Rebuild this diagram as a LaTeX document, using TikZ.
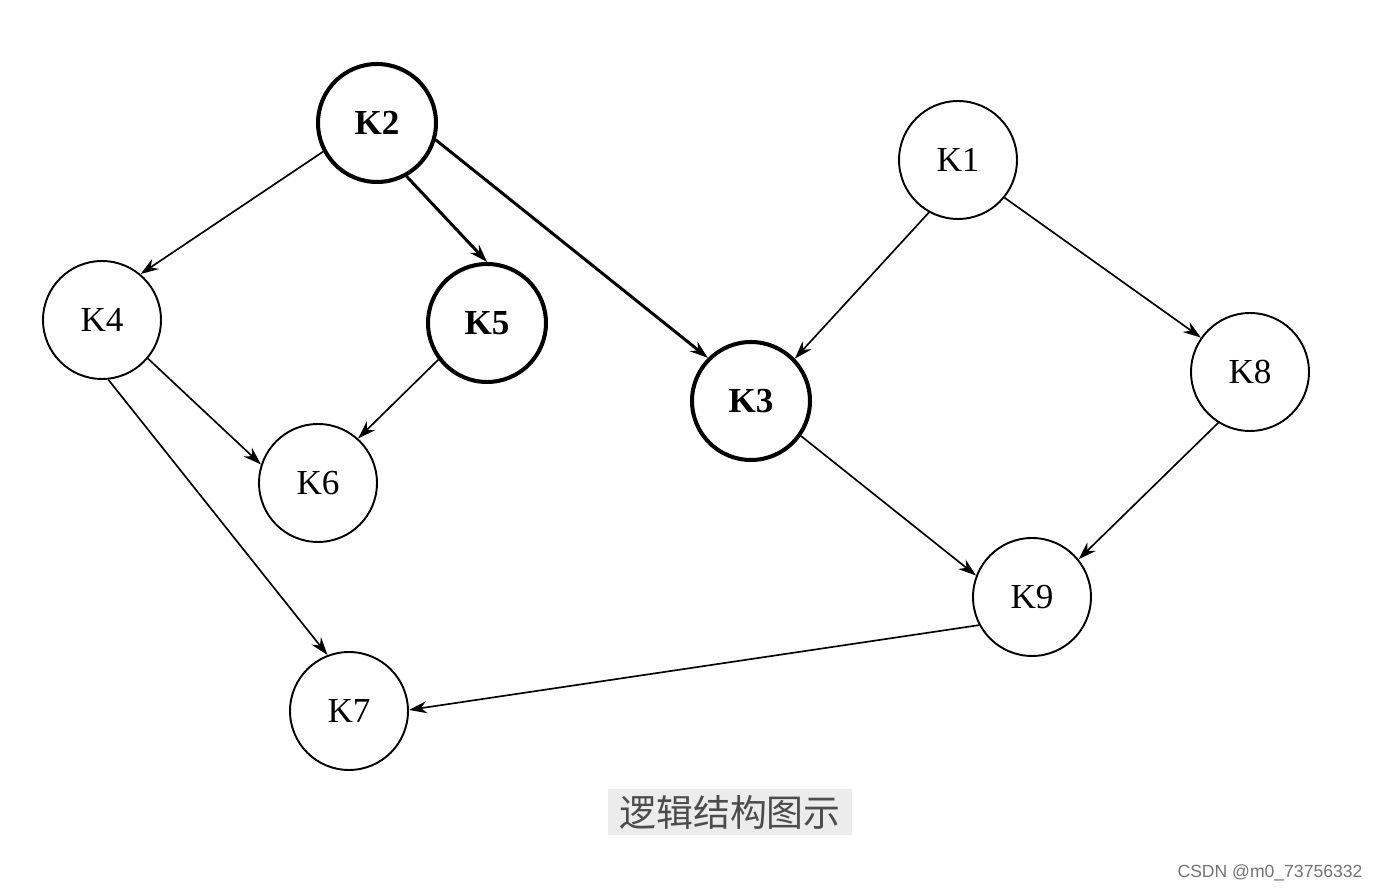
\documentclass[tikz,border=0pt]{standalone}
\usepackage{fontspec}
\setmainfont{Liberation Serif}
\newfontfamily\cjk{Noto Sans CJK SC}
\newfontfamily\wmfont{Liberation Sans}
\usetikzlibrary{arrows.meta}

\begin{document}
\begin{tikzpicture}[x=0.02cm, y=-0.02cm,
  knode/.style={draw, circle, minimum size=2.36cm, inner sep=0pt,
                line width=1.1pt, font=\fontsize{20}{22}\selectfont},
  bnode/.style={knode, line width=2.3pt, font=\fontsize{20}{22}\selectfont\bfseries},
  arr/.style={-{Stealth[length=3.6mm, width=2.4mm]}, line width=0.95pt},
  barr/.style={arr, line width=1.7pt},
]
\useasboundingbox (0,0) rectangle (1374,891);

% nodes
\node[bnode] (K2) at (377,123) {K2};
\node[knode] (K1) at (958,160) {K1};
\node[knode] (K4) at (102,320) {K4};
\node[bnode] (K5) at (487,323) {K5};
\node[bnode] (K3) at (751,401) {K3};
\node[knode] (K8) at (1250,372) {K8};
\node[knode] (K6) at (318,483) {K6};
\node[knode] (K9) at (1032,597) {K9};
\node[knode] (K7) at (349,711) {K7};

% edges
\draw[arr] (K2.208) -- (K4.50);
\draw[barr] (K2.299) -- (K5.90);
\draw[barr] (K2.344) -- (K3.135);
\draw[arr] (K1.241) -- (K3.44);
\draw[arr] (K1.321) -- (K8.145);
\draw[arr] (K4.320) -- (K6.162);
\draw[arr] (K4.276) -- (K7.111);
\draw[arr] (K5.217) -- (K6.48);
\draw[arr] (K3.325) -- (K9.159);
\draw[arr] (K8.238) -- (K9.39);
\draw[arr] (K9.208) -- (K7.1);

% caption
\node[fill=gray!15, minimum width=4.9cm, minimum height=0.94cm,
      text=black!70, font=\cjk\fontsize{21}{23}\selectfont] (cap) at (730,812) {逻辑结构图示};
\node[text=black!55, font=\wmfont\fontsize{10}{12}\selectfont] (wm) at (1270,873) {CSDN @m0\_73756332};
\end{tikzpicture}
\end{document}
